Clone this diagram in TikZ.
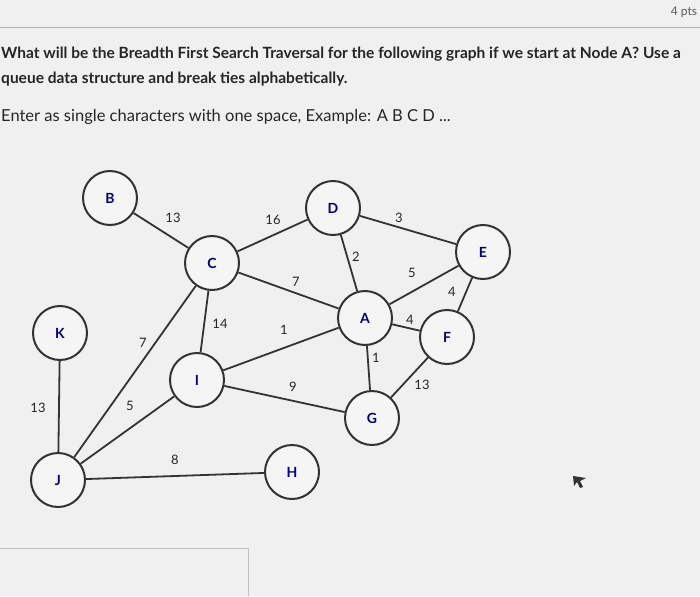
\documentclass[tikz,border=0pt]{standalone}
\usepackage{fontspec}
\setmainfont{Lato}
\begin{document}
\begin{tikzpicture}[x=1pt,y=-1pt,
  vert/.style={circle,draw=black!80,line width=2pt,minimum size=54pt,inner sep=0pt,fill=white!92!gray,font=\bfseries\fontsize{14}{14}\selectfont,text=blue!50!black},
  edge/.style={draw=black!80,line width=1.8pt},
  wt/.style={font=\fontsize{13}{13}\selectfont,text=black!85}]
\useasboundingbox (0,0) rectangle (700,596);
\fill[gray!12] (0,0) rectangle (700,596);
\draw[gray!60] (0,27) -- (700,27);
\node[font=\fontsize{12}{12}\selectfont,text=gray!70!black] (pts) at (684,12) {4 pts};
\node[anchor=west,font=\bfseries\fontsize{15.5}{25}\selectfont,text=black!85,align=left,inner sep=0pt] (q) at (1,67) {What will be the Breadth First Search Traversal for the following graph if we start at Node A? Use a\\queue data structure and break ties alphabetically.};
\node[anchor=west,font=\fontsize{16.5}{18}\selectfont,text=black!85,inner sep=0pt] (q2) at (1,117) {Enter as single characters with one space, Example: A B C D ...};
\draw[gray!50] (0,548) -- (248,548) -- (248,596);
\node[vert] (B) at (110,198) {B};
\node[vert] (D) at (333,208) {D};
\node[vert] (C) at (212,263) {C};
\node[vert] (E) at (483,252) {E};
\node[vert] (A) at (365,318) {A};
\node[vert] (K) at (60,333) {K};
\node[vert] (F) at (447,337) {F};
\node[vert] (I) at (197,380) {I};
\node[vert] (G) at (372,418) {G};
\node[vert] (J) at (58,480) {J};
\node[vert] (H) at (292,472) {H};
\path[edge] (B)--(C) (C)--(D) (D)--(E) (D)--(A) (C)--(A) (A)--(E) (E)--(F) (A)--(F)
 (A)--(G) (F)--(G) (I)--(A) (I)--(G) (C)--(I) (J)--(C) (J)--(I) (J)--(H) (K)--(J);
\node[wt] (w1) at (173,218) {13};
\node[wt] (w2) at (273,220) {16};
\node[wt] (w3) at (399,218) {3};
\node[wt] (w4) at (356,257) {2};
\node[wt] (w5) at (412,273) {5};
\node[wt] (w6) at (452,292) {4};
\node[wt] (w7) at (296,282) {7};
\node[wt] (w8) at (410,320) {4};
\node[wt] (w9) at (220,324) {14};
\node[wt] (w10) at (284,330) {1};
\node[wt] (w11) at (143,343) {7};
\node[wt] (w12) at (376,358) {1};
\node[wt] (w13) at (293,387) {9};
\node[wt] (w14) at (422,385) {13};
\node[wt] (w15) at (38,408) {13};
\node[wt] (w16) at (130,406) {5};
\node[wt] (w17) at (175,460) {8};
\fill[black!80] (573,476) -- (586,478) -- (580,481) -- (583,487) -- (580,488) -- (577,482) -- (574,486) -- cycle;
\end{tikzpicture}
\end{document}
